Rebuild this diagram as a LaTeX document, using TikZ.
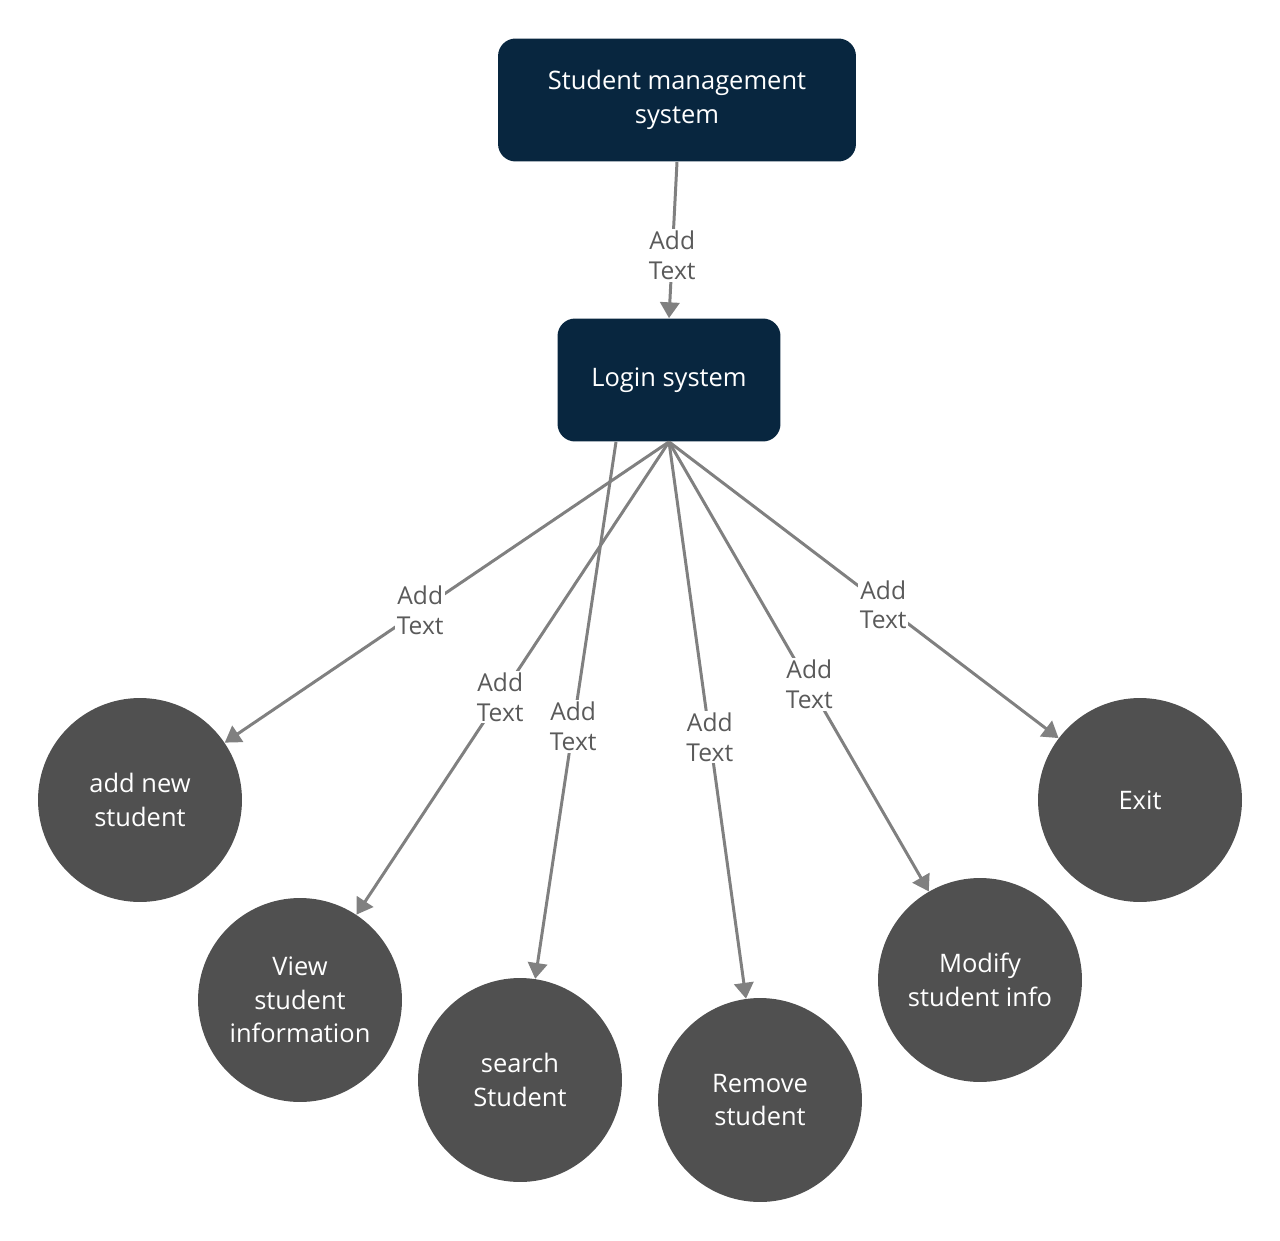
\documentclass[tikz,border=0pt]{standalone}
\usepackage{fontspec}
\setmainfont{Open Sans}
\usetikzlibrary{arrows.meta,positioning,shapes}
\definecolor{boxnavy}{RGB}{8,38,63}
\definecolor{circgray}{RGB}{80,80,80}
\definecolor{linkgray}{RGB}{128,128,128}
\definecolor{labgray}{RGB}{90,90,90}

\begin{document}
\begin{tikzpicture}[x=0.02cm,y=-0.02cm,
    box/.style={draw=none,fill=boxnavy,rounded corners=10pt,text=white,align=center,
      font=\fontsize{14.5}{19}\selectfont},
    task/.style={circle,fill=circgray,text=white,align=center,minimum size=4.08cm,
      inner sep=0pt,font=\fontsize{14.5}{19}\selectfont},
    link/.style={draw=linkgray,line width=1.7pt,-{Triangle[length=9pt,width=11pt]}},
    tag/.style={fill=white,text=labgray,align=center,inner sep=1pt,
      font=\fontsize{14}{17}\selectfont}]
    \useasboundingbox (0,0) rectangle (1280,1240);

    % Boxes
    \node[box,minimum width=7.16cm,minimum height=2.46cm] (sms) at (677,100) {Student management\\system};
    \node[box,minimum width=4.46cm,minimum height=2.46cm] (login) at (669,380) {Login system};

    % Tasks
    \node[task] (addnew) at (140,800) {add new\\student};
    \node[task] (view) at (300,1000) {View\\student\\information};
    \node[task] (search) at (520,1080) {search\\Student};
    \node[task] (remove) at (760,1100) {Remove\\student};
    \node[task] (modify) at (980,980) {Modify\\student info};
    \node[task] (exit) at (1140,800) {Exit};

    % Links
    \draw[link] (sms.south) -- node[tag,pos=0.6] {Add\\Text} (login.north);
    \draw[link] (login.south) -- node[tag,pos=0.56] {Add\\Text} (addnew);
    \draw[link] (login.south) -- node[tag,pos=0.54] {Add\\Text} (view);
    \draw[link] ([xshift=-1.06cm]login.south) -- node[tag,pos=0.53] {Add\\Text} (search);
    \draw[link] (login.south) -- node[tag,pos=0.53] {Add\\Text} (remove);
    \draw[link] (login.south) -- node[tag,pos=0.54] {Add\\Text} (modify);
    \draw[link] (login.south) -- node[tag,pos=0.55] {Add\\Text} (exit);
\end{tikzpicture}
\end{document}
